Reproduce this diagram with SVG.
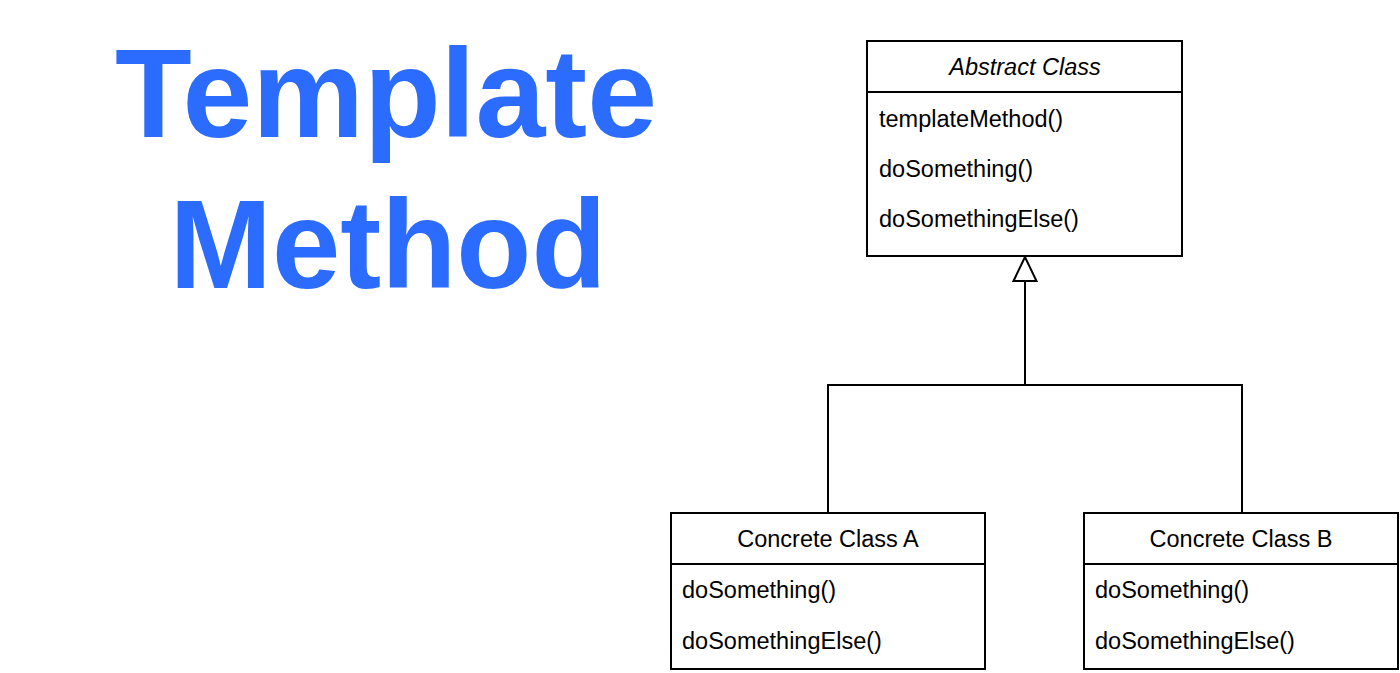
<svg xmlns="http://www.w3.org/2000/svg" width="1400" height="673" viewBox="0 0 1400 673">
<style>
.box{fill:#fff;stroke:#000;stroke-width:2}
.sep{stroke:#000;stroke-width:2}
.t{font-family:"Liberation Sans",Arial,sans-serif;font-size:23.5px;fill:#000}
.title{font-family:"Liberation Sans",Arial,sans-serif;font-size:126px;font-weight:bold;fill:#2B6CFF}
.conn{fill:none;stroke:#000;stroke-width:2}
</style>
<rect width="1400" height="673" fill="#fff"/>
<g id="title">
<text class="title" x="386" y="137" text-anchor="middle" textLength="542" lengthAdjust="spacingAndGlyphs">Template</text>
<text class="title" x="388" y="288" text-anchor="middle" textLength="437" lengthAdjust="spacingAndGlyphs">Method</text>
</g>
<g id="connectors">
<path class="conn" d="M1025 281 V385 M828 513 V385 H1242 V513"/>
<polygon points="1025,257 1013.5,281 1036.5,281" fill="#fff" stroke="#000" stroke-width="2"/>
</g>
<g id="abstract-class">
<rect class="box" x="867" y="41" width="315" height="215"/>
<line class="sep" x1="867" y1="92" x2="1182" y2="92"/>
<text class="t" x="1025" y="75" text-anchor="middle" font-style="italic">Abstract Class</text>
<text class="t" x="879" y="127">templateMethod()</text>
<text class="t" x="879" y="177">doSomething()</text>
<text class="t" x="879" y="227">doSomethingElse()</text>
</g>
<g id="concrete-a">
<rect class="box" x="671" y="513" width="314" height="156"/>
<line class="sep" x1="671" y1="564" x2="985" y2="564"/>
<text class="t" x="828" y="547" text-anchor="middle">Concrete Class A</text>
<text class="t" x="682" y="598">doSomething()</text>
<text class="t" x="682" y="649">doSomethingElse()</text>
</g>
<g id="concrete-b">
<rect class="box" x="1084" y="513" width="314" height="156"/>
<line class="sep" x1="1084" y1="564" x2="1398" y2="564"/>
<text class="t" x="1241" y="547" text-anchor="middle">Concrete Class B</text>
<text class="t" x="1095" y="598">doSomething()</text>
<text class="t" x="1095" y="649">doSomethingElse()</text>
</g>
</svg>
